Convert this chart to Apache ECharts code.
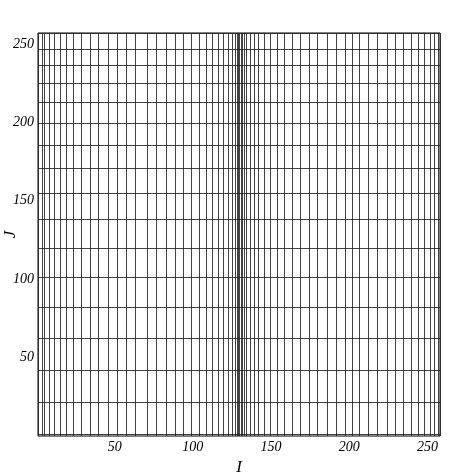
<!DOCTYPE html><html><head><meta charset="utf-8"><script src="https://cdn.jsdelivr.net/npm/echarts@6/dist/echarts.min.js"></script></head><body style="margin:0"><div id="c" style="width:474px;height:474px"></div><script>
const iLines=[1,3.7,5.3,7.9,11.1,15.2,19.0,23.7,28.8,34.2,39.7,45.7,51.5,57.5,63.1,71.0,76.7,82.7,88.5,93.8,99.2,104.0,108.3,112.4,116.2,119.4,122.6,125.2,127.4,128.2,129,129.8,130.8,131.7,132.7,134.4,136.5,139.1,141.9,145.5,149.4,153.7,158.3,163.3,168.6,174.2,179.7,185.7,191.5,197.4,201.9,206.4,212.2,217.9,224.2,229.5,234.6,239.6,244.0,248.1,251.5,254.5,256.9,258];
const jLines=[1,21.3,41.9,62.3,82.3,101.4,119.9,138,154.9,170.8,185.7,199.5,212.9,225,236.2,246.6,257];
const xTicks=[50,100,150,200,250], yTicks=[50,100,150,200,250];
const xMin=1,xMax=258,yMin=0,yMax=257;
const segs=[];
iLines.forEach(x=>segs.push({coords:[[x,yMin],[x,yMax]]}));
jLines.forEach(y=>segs.push({coords:[[xMin,y],[xMax,y]]}));
const font={fontFamily:'Liberation Serif',fontStyle:'italic',fontSize:14,color:'#000'};
const ch=echarts.init(document.getElementById('c'));
ch.setOption({animation:false,
grid:{left:38,right:34,top:33,bottom:38,containLabel:false,outerBoundsMode:'none',show:true,borderColor:'#000',borderWidth:1},
xAxis:{type:'value',min:xMin,max:xMax,name:'I',nameLocation:'middle',nameGap:20,nameTextStyle:Object.assign({},font,{fontSize:17}),
 axisLine:{show:false},axisTick:{show:false},splitLine:{show:false},
 axisLabel:Object.assign({},font,{customValues:xTicks,margin:4})},
yAxis:{type:'value',min:yMin,max:yMax,name:'J',nameLocation:'middle',nameGap:19,nameRotate:90,nameMoveOverlap:false,nameTextStyle:Object.assign({},font,{fontSize:17}),
 axisLine:{show:false},axisTick:{show:false},splitLine:{show:false},
 axisLabel:Object.assign({},font,{customValues:yTicks,margin:4})},
series:[{type:'lines',coordinateSystem:'cartesian2d',polyline:false,silent:true,
 lineStyle:{color:'#222',width:1,opacity:0.85},data:segs}]});
</script></body></html>
